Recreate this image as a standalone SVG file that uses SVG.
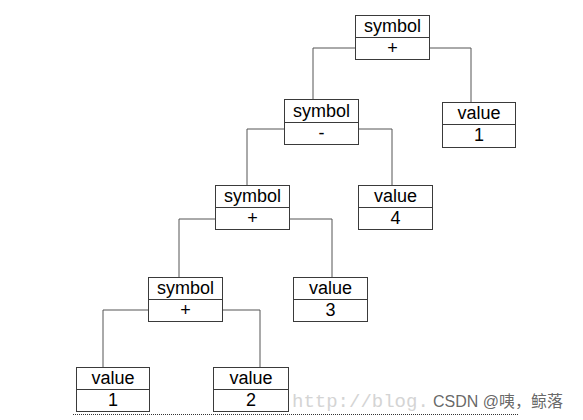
<svg xmlns="http://www.w3.org/2000/svg" width="583" height="420" viewBox="0 0 583 420">
<style>
.box{fill:#fff;stroke:#3a3a3a;stroke-width:1}
.div{stroke:#3a3a3a;stroke-width:1}
.t{font-family:"Liberation Sans",Arial,sans-serif;font-size:18px;fill:#000;text-anchor:middle}
.c{fill:none;stroke:#555;stroke-width:1}
</style>
<rect width="583" height="420" fill="#fff"/>
<g id="connectors">
<polyline class="c" points="355,48 313,48 313,99"/>
<polyline class="c" points="429,48 471,48 471,102"/>
<polyline class="c" points="284,129 247,129 247,185"/>
<polyline class="c" points="358,129 392,129 392,185"/>
<polyline class="c" points="215,219 179,219 179,277"/>
<polyline class="c" points="289,219 332,219 332,277"/>
<polyline class="c" points="148,310 103,310 103,367"/>
<polyline class="c" points="222,310 260,310 260,367"/>
</g>
<g id="n1"><rect class="box" x="355.5" y="15.5" width="74" height="44"/><line class="div" x1="355.5" y1="37.5" x2="429.5" y2="37.5"/><text class="t" x="392.5" y="32">symbol</text><text class="t" x="392.5" y="54">+</text></g>
<g id="n2"><rect class="box" x="284.5" y="99.5" width="74" height="45"/><line class="div" x1="284.5" y1="122.5" x2="358.5" y2="122.5"/><text class="t" x="321.5" y="117">symbol</text><text class="t" x="321.5" y="139">-</text></g>
<g id="n3"><rect class="box" x="442.5" y="102.5" width="73" height="45"/><line class="div" x1="442.5" y1="124.5" x2="515.5" y2="124.5"/><text class="t" x="479" y="119">value</text><text class="t" x="479" y="141">1</text></g>
<g id="n4"><rect class="box" x="215.5" y="185.5" width="74" height="44"/><line class="div" x1="215.5" y1="207.5" x2="289.5" y2="207.5"/><text class="t" x="252.5" y="202">symbol</text><text class="t" x="252.5" y="224">+</text></g>
<g id="n5"><rect class="box" x="358.5" y="185.5" width="74" height="44"/><line class="div" x1="358.5" y1="207.5" x2="432.5" y2="207.5"/><text class="t" x="395.5" y="202">value</text><text class="t" x="395.5" y="224">4</text></g>
<g id="n6"><rect class="box" x="148.5" y="277.5" width="74" height="44"/><line class="div" x1="148.5" y1="299.5" x2="222.5" y2="299.5"/><text class="t" x="185.5" y="294">symbol</text><text class="t" x="185.5" y="316">+</text></g>
<g id="n7"><rect class="box" x="293.5" y="277.5" width="74" height="44"/><line class="div" x1="293.5" y1="299.5" x2="367.5" y2="299.5"/><text class="t" x="330.5" y="294">value</text><text class="t" x="330.5" y="316">3</text></g>
<g id="n8"><rect class="box" x="76.5" y="367.5" width="73" height="44"/><line class="div" x1="76.5" y1="389.5" x2="149.5" y2="389.5"/><text class="t" x="113" y="384">value</text><text class="t" x="113" y="406">1</text></g>
<g id="n9"><rect class="box" x="213.5" y="367.5" width="75" height="44"/><line class="div" x1="213.5" y1="389.5" x2="288.5" y2="389.5"/><text class="t" x="251" y="384">value</text><text class="t" x="251" y="406">2</text></g>
<line x1="73" y1="414.5" x2="518" y2="414.5" stroke="#333" stroke-width="1" stroke-dasharray="1,1"/>
<text x="292" y="407" font-family="'Liberation Mono','Courier New',monospace" font-size="19" fill="#d4d4d4">http://blog.</text>
<text x="433" y="407" font-family="'Liberation Sans','Noto Sans CJK SC',sans-serif" font-size="16" fill="#555" fill-opacity="0.9">CSDN @咦，鲸落</text>
</svg>
